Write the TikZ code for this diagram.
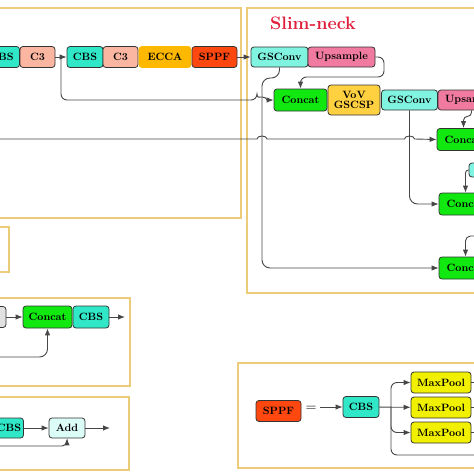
\documentclass[tikz,border=0pt]{standalone}
\usetikzlibrary{arrows.meta}
\definecolor{cbscol}{RGB}{48,232,200}
\definecolor{c3col}{RGB}{250,182,160}
\definecolor{eccacol}{RGB}{255,184,0}
\definecolor{sppfcol}{RGB}{255,72,16}
\definecolor{gscol}{RGB}{128,244,224}
\definecolor{upcol}{RGB}{240,122,160}
\definecolor{concol}{RGB}{16,232,16}
\definecolor{vovcol}{RGB}{255,208,64}
\definecolor{mpcol}{RGB}{240,240,0}
\definecolor{addcol}{RGB}{220,252,248}
\definecolor{graycol}{RGB}{225,225,225}
\definecolor{framecol}{RGB}{236,204,120}
\definecolor{titlecol}{RGB}{225,30,60}
\definecolor{linecol}{RGB}{70,70,70}
\begin{document}
\begin{tikzpicture}[x=1pt,y=-1pt,
    blk/.style={draw=black!80,line width=0.8pt,rounded corners=3pt,minimum height=21pt,inner sep=1pt,font=\fontsize{10.6}{12}\selectfont\bfseries},
    conn/.style={draw=linecol,line width=0.9pt,-{Latex[length=7pt,width=5.5pt]}},
    plain/.style={draw=linecol,line width=0.9pt},
    frame/.style={draw=framecol,line width=1.1pt}]
    \useasboundingbox (0,0) rectangle (474,474);
    \clip (0,0) rectangle (474,474);
    \draw[frame] (-10,8) rectangle (241,218);
    \draw[frame] (247,8) rectangle (490,293);
    \draw[frame] (-10,227) rectangle (9,272);
    \draw[frame] (-10,298) rectangle (130,386);
    \draw[frame] (-10,397) rectangle (129,470);
    \draw[frame] (238,363) rectangle (490,468);
    \node[text=titlecol,font=\fontsize{18}{20}\selectfont\bfseries] (title) at (313,23) {Slim-neck};

    \node[blk,fill=cbscol,minimum width=36pt] (cbsA) at (1.5,57) {CBS};
    \node[blk,fill=c3col,minimum width=35pt] (c3A) at (37.5,57) {C3};
    \node[blk,fill=cbscol,minimum width=36pt] (cbsB) at (85,57) {CBS};
    \node[blk,fill=c3col,minimum width=35pt] (c3B) at (120.5,57) {C3};
    \node[blk,fill=eccacol,draw=eccacol,minimum width=52pt] (ecca) at (165,57) {ECCA};
    \node[blk,fill=sppfcol,minimum width=45pt] (sppfA) at (214.5,57) {SPPF};
    \node[blk,fill=gscol,minimum width=57pt,minimum height=20pt] (gsconvA) at (279.5,57) {GSConv};
    \node[blk,fill=upcol,minimum width=67pt,minimum height=20pt] (upA) at (341.5,57) {Upsample};
    \node[blk,fill=concol,minimum width=53pt,minimum height=22pt] (concatA) at (300.5,100) {Concat};
    \node[blk,fill=vovcol,minimum width=52pt,minimum height=30pt,align=center] (vov) at (354,100) {VoV\\[-2pt]GSCSP};
    \node[blk,fill=gscol,minimum width=56pt,minimum height=20pt] (gsconvB) at (409.5,100) {GSConv};
    \node[blk,fill=upcol,minimum width=67pt,minimum height=20pt] (upB) at (471.5,100) {Upsample};
    \node[blk,fill=concol,minimum width=53pt,minimum height=22pt] (concatB) at (463.5,139.5) {Concat};
    \node[blk,fill=gscol,minimum width=30pt,minimum height=14pt] (gsconvC) at (484,170) {};
    \node[blk,fill=concol,minimum width=53pt,minimum height=22pt] (concatC) at (465.5,204) {Concat};
    \node[blk,fill=concol,minimum width=53pt,minimum height=22pt] (concatD) at (465.5,268) {Concat};

    \coordinate (brA) at (61,57);
    \coordinate (inB) at (-5,139);
    \coordinate (offD) at (480,236);
    \draw[conn] (c3A) -- (cbsB);
    \draw[conn] (sppfA) -- (gsconvA);
    \draw[conn,rounded corners=6pt] (brA) -- (61,100) -- (257,100) [sharp corners] arc[start angle=180,end angle=360,x radius=5,y radius=3] -- (concatA);
    \draw[conn,rounded corners=6pt] (upA.east) -| (384,77) -| (concatA.north);
    \draw[conn,rounded corners=8pt] (gsconvA.south) -- (279.5,78) -- (262,78) -- (262,268) -- (concatD.west);
    \draw[conn,rounded corners=8pt] (gsconvB.south) |- (concatC.west);
    \draw[conn] (inB) -- (257,139) arc[start angle=180,end angle=360,x radius=5,y radius=3] -- (404.5,139) arc[start angle=180,end angle=360,x radius=5,y radius=3] -- (concatB.west);
    \draw[conn,rounded corners=4pt] (upB.south) -- ++(0,6) -| (concatB.north);
    \draw[conn,rounded corners=3pt] (gsconvC.west) -| (concatC.north);
    \draw[conn,rounded corners=5pt] (offD) -| (concatD.north);

    \node[blk,fill=graycol,minimum width=46pt] (gray) at (-17,317) {};
    \node[blk,fill=concol,minimum width=49pt,minimum height=22pt] (concatE) at (47.5,317) {Concat};
    \node[blk,fill=cbscol,minimum width=36pt,minimum height=22pt] (cbsE) at (91,317) {CBS};
    \coordinate (outE) at (125,317);
    \coordinate (inE) at (-5,357);
    \draw[conn] (gray) -- (concatE);
    \draw[conn] (cbsE) -- (outE);
    \draw[conn,rounded corners=8pt] (inE) -| (concatE.south);

    \node[blk,fill=cbscol,minimum width=29pt,minimum height=20pt] (cbsF) at (9,428) {CBS};
    \node[blk,fill=addcol,minimum width=36pt,minimum height=20pt] (addF) at (67,428) {Add};
    \coordinate (outF) at (110,428);
    \coordinate (inF) at (-5,446);
    \draw[conn] (cbsF) -- (addF);
    \draw[conn] (addF) -- (outF);
    \draw[conn,rounded corners=5pt] (inF) -| (addF.south);

    \node[blk,fill=sppfcol,minimum width=45pt] (sppfB) at (278.5,411) {SPPF};
    \node[font=\Large] (eq) at (311,408.5) {$=$};
    \node[blk,fill=cbscol,minimum width=36pt] (cbsC) at (361,407) {CBS};
    \node[blk,fill=mpcol,minimum width=60pt] (mp1) at (441,382.5) {MaxPool};
    \node[blk,fill=mpcol,minimum width=60pt] (mp2) at (441,407.5) {MaxPool};
    \node[blk,fill=mpcol,minimum width=60pt] (mp3) at (441,432.5) {MaxPool};
    \coordinate (brC) at (391,407);
    \coordinate (offC) at (490,455);
    \draw[conn] (eq.east |- cbsC) -- (cbsC);
    \draw[conn] (cbsC) -- (mp2);
    \draw[conn,rounded corners=6pt] (brC) |- (mp1);
    \draw[conn,rounded corners=6pt] (brC) |- (mp3);
    \draw[plain,rounded corners=6pt] (brC) |- (offC);
    \foreach \i in {1,2,3}
      \draw[plain] (mp\i.east) -- ++(12,0);
\end{tikzpicture}
\end{document}
